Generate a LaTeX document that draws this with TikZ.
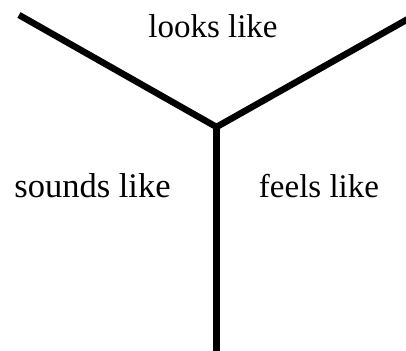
\documentclass[tikz,border=0pt]{standalone}
\usepackage{fontspec}
\setmainfont{Liberation Serif}
\begin{document}
\begin{tikzpicture}[x=1pt,y=-1pt,
  arm/.style={line width=6.5pt},
  lbl/.style={anchor=base,inner sep=0pt,font=\fontsize{33}{36}\selectfont}]
\useasboundingbox (0,0) rectangle (406,350);
\coordinate (c) at (216.5,127);
\coordinate (tl) at (19,15);
\coordinate (tr) at (408,19);
\coordinate (b) at (216.5,352);
\draw[arm,line join=miter] (tl) -- (c) -- (tr);
\draw[arm] (c) -- (b);
\node[lbl] (looks) at (213,38) {looks like};
\node[lbl,font=\fontsize{34.5}{38}\selectfont] (sounds) at (92.5,197) {sounds like};
\node[lbl] (feels) at (319,197) {feels like};
\end{tikzpicture}
\end{document}
